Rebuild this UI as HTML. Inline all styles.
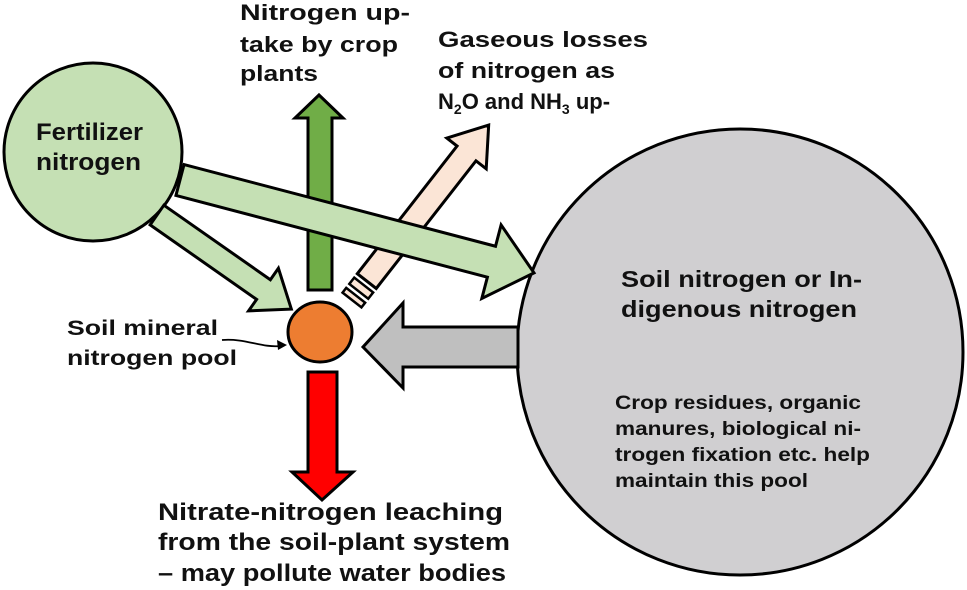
<!DOCTYPE html>
<html><head><meta charset="utf-8"><style>
html,body{margin:0;padding:0;background:#fff;}
svg{display:block;}
text{font-family:"Liberation Sans",Arial,sans-serif;font-weight:bold;fill:#111;}
</style></head><body>
<svg width="967" height="590" viewBox="0 0 967 590" xmlns="http://www.w3.org/2000/svg">
<!-- big gray circle -->
<circle cx="740" cy="352" r="223" fill="#d0cfd1" stroke="#000" stroke-width="3"/>
<!-- fertilizer circle -->
<circle cx="93" cy="152" r="89" fill="#c5e0b4" stroke="#000" stroke-width="3"/>
<!-- green up arrow -->
<polygon points="308,290 308,118 295,118 319,95 343,118 332,118 332,290" fill="#70ad47" stroke="#000" stroke-width="3" stroke-linejoin="miter"/>
<!-- peach diagonal arrow -->
<g transform="translate(352,300) rotate(-52)">
  <polygon points="0,-12 6,-12 6,12 0,12" fill="#fbe5d6" stroke="#000" stroke-width="2.5"/>
  <polygon points="11,-12 19,-12 19,12 11,12" fill="#fbe5d6" stroke="#000" stroke-width="2.5"/>
  <polygon points="24,-12 186,-12 186,-25 222,0 186,25 186,12 24,12" fill="#fbe5d6" stroke="#000" stroke-width="3"/>
</g>
<!-- small green arrow fertilizer -> pool -->
<g transform="translate(157,215) rotate(35)">
  <polygon points="0,-12 130,-12 130,-26 164,0 130,26 130,12 0,12" fill="#c5e0b4" stroke="#000" stroke-width="3"/>
</g>
<!-- big green arrow fertilizer -> soil -->
<g transform="translate(180,180) rotate(14.7)">
  <polygon points="0,-16 322,-16 322,-38 366,0 322,38 322,16 0,16" fill="#c5e0b4" stroke="#000" stroke-width="3"/>
</g>
<!-- gray arrow -->
<polygon points="518,327 403,327 403,303 363,347 403,388 403,367 518,367" fill="#bfbfbf" stroke="#000" stroke-width="3"/>
<!-- orange circle -->
<ellipse cx="320" cy="332" rx="32" ry="30" fill="#ed7d31" stroke="#000" stroke-width="3"/>
<!-- red arrow -->
<polygon points="308,372 337,372 337,472 353,472 322,500 292,472 308,472" fill="#ff0000" stroke="#000" stroke-width="3"/>
<!-- thin pointer -->
<path d="M222,340 C245,338 262,348 280,346" fill="none" stroke="#000" stroke-width="1.8"/>
<polygon points="287,345 277,340 278,350" fill="#000"/>
<!-- texts -->
<text x="240" y="20" font-size="22" textLength="170" lengthAdjust="spacingAndGlyphs">Nitrogen up-</text>
<text x="240" y="52" font-size="22" textLength="158" lengthAdjust="spacingAndGlyphs">take by crop</text>
<text x="240" y="81" font-size="22" textLength="78" lengthAdjust="spacingAndGlyphs">plants</text>
<text x="438" y="47" font-size="22" textLength="210" lengthAdjust="spacingAndGlyphs">Gaseous losses</text>
<text x="438" y="78" font-size="22" textLength="177" lengthAdjust="spacingAndGlyphs">of nitrogen as</text>
<text x="438" y="109" font-size="22">N<tspan font-size="14" dy="5">2</tspan><tspan dy="-5">O and NH</tspan><tspan font-size="14" dy="5">3</tspan><tspan dy="-5"> up-</tspan></text>
<text x="36" y="140" font-size="24" textLength="107" lengthAdjust="spacingAndGlyphs">Fertilizer</text>
<text x="36" y="170" font-size="24" textLength="105" lengthAdjust="spacingAndGlyphs">nitrogen</text>
<text x="67" y="335" font-size="21" textLength="151" lengthAdjust="spacingAndGlyphs">Soil mineral</text>
<text x="67" y="365" font-size="21" textLength="170" lengthAdjust="spacingAndGlyphs">nitrogen pool</text>
<text x="158" y="520" font-size="24" textLength="345" lengthAdjust="spacingAndGlyphs">Nitrate-nitrogen leaching</text>
<text x="158" y="550" font-size="24" textLength="352" lengthAdjust="spacingAndGlyphs">from the soil-plant system</text>
<text x="158" y="581" font-size="24" textLength="348" lengthAdjust="spacingAndGlyphs">– may pollute water bodies</text>
<text x="621" y="287" font-size="23" textLength="241" lengthAdjust="spacingAndGlyphs">Soil nitrogen or In-</text>
<text x="621" y="317" font-size="23" textLength="236" lengthAdjust="spacingAndGlyphs">digenous nitrogen</text>
<text x="615" y="409" font-size="19" textLength="246" lengthAdjust="spacingAndGlyphs">Crop residues, organic</text>
<text x="615" y="435" font-size="19" textLength="246" lengthAdjust="spacingAndGlyphs">manures, biological ni-</text>
<text x="615" y="461" font-size="19" textLength="255" lengthAdjust="spacingAndGlyphs">trogen fixation etc. help</text>
<text x="615" y="487" font-size="19" textLength="193" lengthAdjust="spacingAndGlyphs">maintain this pool</text>
</svg>
</body></html>
